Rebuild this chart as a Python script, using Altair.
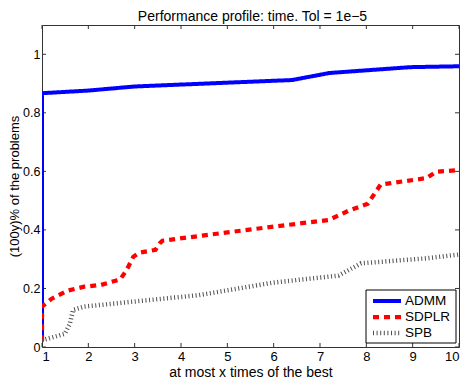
import altair as alt
import pandas as pd

# ---- data ----
solvers = ["ADMM", "SDPLR", "SPB"]

admm_x = [1, 1, 2, 3, 5, 6.4, 7.2, 8.95, 10]
admm_y = [0.02, 0.867, 0.876, 0.89, 0.903, 0.912, 0.936, 0.956, 0.959]

sdplr_x = [1, 1, 1.21, 1.56, 1.91, 2.27, 2.69, 2.83, 2.97, 3.1, 3.45, 3.55, 3.6,
           4.38, 5.78, 7.19, 7.61, 8.03, 8.31, 9.3, 9.51, 10]
sdplr_y = [0.02, 0.138, 0.165, 0.193, 0.206, 0.212, 0.231, 0.264, 0.308, 0.322, 0.332, 0.356, 0.363,
           0.379, 0.407, 0.434, 0.465, 0.489, 0.555, 0.577, 0.599, 0.604]

spb_x = [1, 1.49, 1.6, 1.67, 1.91, 2.97, 4.38, 5.99, 7.4, 7.89, 9.3, 10]
spb_y = [0.023, 0.045, 0.078, 0.127, 0.138, 0.155, 0.177, 0.22, 0.244, 0.286, 0.303, 0.316]

x_ticks = [1, 2, 3, 4, 5, 6, 7, 8, 9, 10]
y_ticks = [0, 0.2, 0.4, 0.6, 0.8, 1.0]

title_text = "Performance profile: time. Tol = 1e\u22125"
x_title = "at most x times of the best"
y_title = "(100y)% of the problems"

colors = ["#0000ff", "#ff0000", "#505050"]
dashes = [[1, 0], [6, 5], [1, 2.6]]
widths = [4, 4.5, 4]

# ---- build tables ----
rows = []
for name, xs, ys in [("ADMM", admm_x, admm_y), ("SDPLR", sdplr_x, sdplr_y), ("SPB", spb_x, spb_y)]:
    for i, (xv, yv) in enumerate(zip(xs, ys)):
        rows.append({"solver": name, "x": xv, "y": yv, "idx": i})
df = pd.DataFrame(rows)
xt = pd.DataFrame({"t": x_ticks})
yt = pd.DataFrame({"t": y_ticks})
leg = pd.DataFrame({"solver": solvers})
one = pd.DataFrame({"k": [0]})

W, H = 417, 322
FONT = "Liberation Sans"
frame_col = "#333333"

xscale = alt.Scale(domain=[1, 10], nice=False, zero=False)
yscale = alt.Scale(domain=[0, 1.1], nice=False)
cscale = alt.Scale(domain=solvers, range=colors)
dscale = alt.Scale(domain=solvers, range=dashes)
wscale = alt.Scale(domain=solvers, range=widths)

xaxis = alt.Axis(values=x_ticks, format="d", tickSize=0, domain=False, grid=False,
                 labelFontSize=13, labelPadding=3, labelColor="black", labelFont=FONT,
                 title=x_title, titleFontSize=14, titleFontWeight="normal", titleFont=FONT,
                 titlePadding=2, titleColor="black")
yaxis = alt.Axis(values=y_ticks, format="~g", tickSize=0, domain=False, grid=False,
                 labelFontSize=12.5, labelPadding=2, labelColor="black", labelFont=FONT,
                 title=y_title, titleFontSize=13, titleFontWeight="normal", titleFont=FONT,
                 titleColor="black", titleX=-34, titleY=H / 2, titleAngle=270,
                 titleBaseline="top", titleAnchor="middle")

lines = alt.Chart(df).mark_line(strokeCap="butt", strokeJoin="miter", clip=True).encode(
    x=alt.X("x:Q", scale=xscale, axis=xaxis),
    y=alt.Y("y:Q", scale=yscale, axis=yaxis),
    order="idx:Q",
    color=alt.Color("solver:N", scale=cscale, legend=None),
    strokeDash=alt.StrokeDash("solver:N", scale=dscale, legend=None),
    strokeWidth=alt.StrokeWidth("solver:N", scale=wscale, legend=None),
)

tick_style = dict(color=frame_col, strokeWidth=1)
tb = alt.Chart(xt).mark_rule(**tick_style).encode(
    x=alt.X("t:Q", scale=xscale), y=alt.value(H), y2=alt.value(H - 4))
tt = alt.Chart(xt).mark_rule(**tick_style).encode(
    x=alt.X("t:Q", scale=xscale), y=alt.value(0), y2=alt.value(4))
tl = alt.Chart(yt).mark_rule(**tick_style).encode(
    y=alt.Y("t:Q", scale=yscale, axis=None), x=alt.value(0), x2=alt.value(4))
tr = alt.Chart(yt).mark_rule(**tick_style).encode(
    y=alt.Y("t:Q", scale=yscale, axis=None), x=alt.value(W), x2=alt.value(W - 4))

# ---- hand-made legend box (bottom-right, inside the plot) ----
box_x0, box_x1 = W - 93, W - 3
box_y0, box_y1 = H - 57, H - 4
leg_y = alt.Scale(type="point", domain=solvers, range=[box_y0 + 11, box_y0 + 43], padding=0)

leg_box = alt.Chart(one).mark_rect(fill="white", stroke="black", strokeWidth=1).encode(
    x=alt.value(box_x0), x2=alt.value(box_x1), y=alt.value(box_y0), y2=alt.value(box_y1))
leg_sym = alt.Chart(leg).mark_rule(strokeCap="butt").encode(
    x=alt.value(box_x0 + 7), x2=alt.value(box_x0 + 35),
    y=alt.Y("solver:N", scale=leg_y, axis=None),
    color=alt.Color("solver:N", scale=cscale, legend=None),
    strokeDash=alt.StrokeDash("solver:N", scale=dscale, legend=None),
    strokeWidth=alt.StrokeWidth("solver:N", scale=wscale, legend=None),
)
leg_txt = alt.Chart(leg).mark_text(align="left", baseline="middle", fontSize=13.5, font=FONT,
                                   color="black").encode(
    x=alt.value(box_x0 + 39),
    y=alt.Y("solver:N", scale=leg_y, axis=None),
    text="solver:N",
)

title = alt.Chart(one).mark_text(align="center", baseline="alphabetic", fontSize=14, font=FONT,
                                 color="black").encode(
    x=alt.value(W / 2 + 2), y=alt.value(-4), text=alt.value(title_text))

chart = alt.layer(tb, tt, tl, tr, lines, leg_box, leg_sym, leg_txt, title).resolve_scale(
    y="independent"
).properties(
    width=W, height=H,
    autosize=alt.AutoSizeParams(type="none"),
    padding={"left": 34, "top": 17, "right": 7, "bottom": 34},
).configure_view(
    stroke=frame_col, strokeWidth=1
)

chart.save("out.html", embed_options={"renderer": "svg", "actions": False})
